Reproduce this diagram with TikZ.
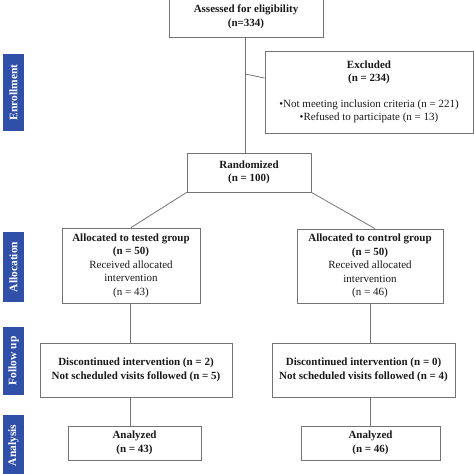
\documentclass[tikz,border=0pt]{standalone}
\usepackage{fontspec}
\setmainfont{Liberation Serif}
\definecolor{phaseblue}{HTML}{2F4FA8}
\begin{document}
\begin{tikzpicture}[x=1pt,y=-1pt,line cap=butt,line join=miter,font=\fontsize{11}{13.5}\selectfont]
		\tikzset{box/.style={draw=black!55,line width=0.8pt,align=center,inner sep=0pt,text=black!90},
			phase/.style={fill=phaseblue,text=white,rotate=90,inner sep=0pt,minimum height=21pt,font=\fontsize{11.5}{13}\selectfont\bfseries}}
		\useasboundingbox (0,0) rectangle (474,474);
		%--------- Phases
		\node[phase,minimum width=77pt] (enrol) at (13.5,92.5) {Enrollment};
		\node[phase,minimum width=70pt] (alloc) at (13.5,267) {Allocation};
		\node[phase,minimum width=68pt] (follow) at (13.5,361) {Follow up};
		\node[phase,minimum width=61pt] (anal) at (13.5,445.5) {Analysis};
		%--------- Boxes
		\node[box,minimum width=154pt,minimum height=40pt] (assess) at (246,17) {\textbf{Assessed for eligibility}\\\textbf{(n=334)}};
		\node[box,minimum width=208pt,minimum height=82pt] (excl) at (369,92) {\textbf{Excluded}\\\textbf{(n = 234)}\\[12pt]\textbullet Not meeting inclusion criteria (n = 221)\\\textbullet Refused to participate (n = 13)};
		\node[box,minimum width=124pt,minimum height=39pt] (rand) at (249,172.5) {\textbf{Randomized}\\\textbf{(n = 100)}};
		\node[box,minimum width=138pt,minimum height=75pt] (tested) at (131,265.5) {\textbf{Allocated to tested group}\\\textbf{(n = 50)}\\Received allocated\\intervention\\(n = 43)};
		\node[box,minimum width=146pt,minimum height=74pt] (control) at (370,266) {\textbf{Allocated to control group}\\\textbf{(n = 50)}\\Received allocated\\intervention\\(n = 46)};
		\node[box,minimum width=192pt,minimum height=54pt] (fup1) at (136,370) {\textbf{Discontinued intervention (n = 2)}\\\textbf{Not scheduled visits followed (n = 5)}};
		\node[box,minimum width=183pt,minimum height=54pt] (fup2) at (363.5,370) {\textbf{Discontinued intervention (n = 0)}\\\textbf{Not scheduled visits followed (n = 4)}};
		\node[box,minimum width=133pt,minimum height=34pt] (an1) at (134.5,443) {\textbf{Analyzed}\\\textbf{(n = 43)}};
		\node[box,minimum width=139pt,minimum height=34pt] (an2) at (370.5,443) {\textbf{Analyzed}\\\textbf{(n = 46)}};
		%--------- Connectors
		\coordinate (split) at (245,74);
		\draw[black!55,line width=0.8pt] (assess.south -| split) -- (rand.north -| split);
		\draw[black!55,line width=0.8pt] (split) -- ([yshift=14pt]excl.west);
		\draw[black!55,line width=0.8pt] (rand.south west) -- (tested.north);
		\draw[black!55,line width=0.8pt] (rand.south east) -- ([xshift=5pt]control.north);
		\draw[black!55,line width=0.8pt] ([xshift=-1pt]tested.south) -- ([xshift=-1pt]tested.south |- fup1.north);
		\draw[black!55,line width=0.8pt] ([xshift=-1pt]tested.south |- fup1.south) -- ([xshift=-1pt]tested.south |- an1.north);
		\draw[black!55,line width=0.8pt] (control.south) -- (control.south |- fup2.north);
		\draw[black!55,line width=0.8pt] (control.south |- fup2.south) -- (control.south |- an2.north);
	\end{tikzpicture}
\end{document}
